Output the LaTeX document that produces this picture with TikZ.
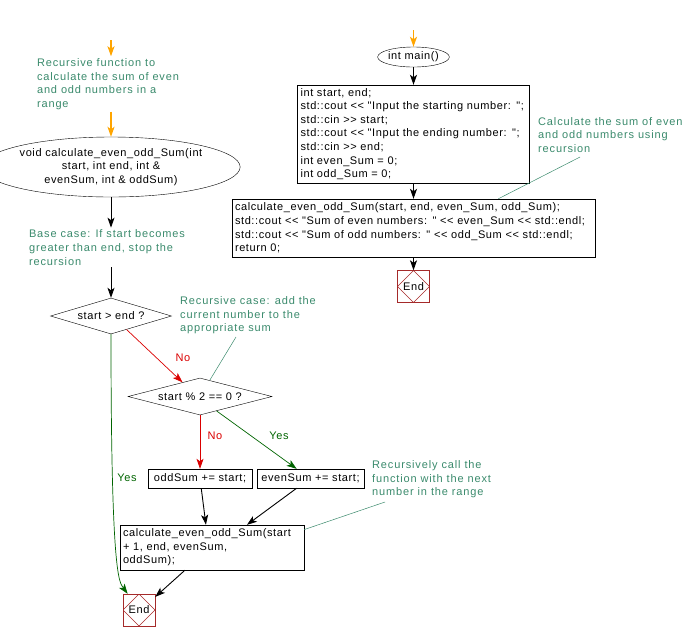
\documentclass[tikz,border=0pt]{standalone}
\usepackage{fontspec}
\setmainfont{Liberation Sans}[Ligatures=TeXOff, LetterSpace=5.5]
\newfontfamily\notefont{Liberation Sans}[Ligatures=TeXOff, LetterSpace=7.8]
\usetikzlibrary{shapes.geometric,arrows.meta,positioning}

\definecolor{notegreen}{RGB}{58,138,108}
\definecolor{yesgreen}{RGB}{0,100,0}
\definecolor{nored}{RGB}{218,0,0}
\definecolor{leadorange}{RGB}{255,165,0}
\definecolor{endred}{RGB}{165,42,42}

\begin{document}
\begin{tikzpicture}[x=1pt, y=-1pt, font=\fontsize{11}{13.6}\selectfont,
		>={Stealth[length=10pt,width=7pt,inset=2.5pt]}]
				\tikzstyle{Box}		= [draw, rectangle, inner xsep=3pt, inner ysep=1pt]
				\tikzstyle{Code}	= [align=left]
				\tikzstyle{Start}	= [draw, ellipse, inner sep=0pt, align=center]
				\tikzstyle{Decision}	= [draw, diamond, aspect=3.5, inner sep=1pt]
				\tikzstyle{Stop}	= [draw=endred, rectangle, minimum size=32pt, inner sep=0pt,
					path picture={\draw[endred] (path picture bounding box.north) -- (path picture bounding box.east)
						-- (path picture bounding box.south) -- (path picture bounding box.west) -- cycle;}]
				\tikzstyle{Note}	= [text=notegreen, align=left, inner sep=2pt, font=\notefont\fontsize{11}{13.6}\selectfont]
				\tikzstyle{Flow}	= [black, line width=0.9pt]
				\tikzstyle{Lead}	= [leadorange, line width=1.4pt]
				\tikzstyle{YesLine}	= [yesgreen, line width=0.7pt]
				\tikzstyle{NoLine}	= [nored, line width=0.7pt]
				\tikzstyle{Pointer}	= [notegreen, line width=0.5pt]

				\useasboundingbox (0,0) rectangle (692,641);

				\coordinate (s1) at (111,40);
				\node (c1) at (108,84) [Note] {Recursive function to\\calculate the sum of even\\and odd numbers in a\\range};
				\node (f1) at (111,167) [Start, minimum width=211pt, minimum height=60pt] {void calculate\_even\_odd\_Sum(int\\start, int end, int \&\\evenSum, int \& oddSum)};
				\node (c2) at (107,247.5) [Note] {Base case: If start becomes\\greater than end, stop the\\recursion};
				\node (d1) at (111,316) [Decision, minimum width=121pt, minimum height=36pt] {start > end ?};
				\node (c3) at (178,315.5) [Note, anchor=west] {Recursive case: add the\\current number to the\\appropriate sum};
				\node (d2) at (200,396.5) [Decision, minimum width=144pt, minimum height=37pt] {start \% 2 == 0 ?};
				\node (b2) at (200,478.5) [Box, minimum width=104pt, minimum height=19pt] {oddSum += start;};
				\node (b3) at (310.5,478.5) [Box, minimum width=107pt, minimum height=19pt] {evenSum += start;};
				\node (c5) at (370,479.5) [Note, anchor=west] {Recursively call the\\function with the next\\number in the range};
				\node (b4) at (212,547.5) [Box, Code, text width=178pt, minimum height=45pt] {calculate\_even\_odd\_Sum(start\\+ 1, end, evenSum,\\oddSum);};
				\node (e1) at (139,610) [Stop] {End};

				\node (n1) at (183,358) [text=nored] {No};
				\node (n2) at (215,436) [text=nored] {No};
				\node (y1) at (279,436) [text=yesgreen] {Yes};
				\node (y2) at (127,478) [text=yesgreen] {Yes};

				\coordinate (s2) at (413.5,30);
				\node (m1) at (413.5,57) [Start, minimum width=67pt, minimum height=20pt] {int main()};
				\node (m2) at (413.5,134) [Box, Code, text width=226pt, minimum height=98pt] {int start, end;\\std::cout << "Input the starting number: ";\\std::cin >> start;\\std::cout << "Input the ending number: ";\\std::cin >> end;\\int even\_Sum = 0;\\int odd\_Sum = 0;};
				\node (m3) at (413.5,228) [Box, Code, text width=357pt, minimum height=58pt] {calculate\_even\_odd\_Sum(start, end, even\_Sum, odd\_Sum);\\std::cout << "Sum of even numbers: " << even\_Sum << std::endl;\\std::cout << "Sum of odd numbers: " << odd\_Sum << std::endl;\\return 0;};
				\node (e2) at (413.5,286.5) [Stop] {End};
				\node (c4) at (536,135) [Note, anchor=west] {Calculate the sum of even\\and odd numbers using\\recursion};

				\draw [->] (s1) to (s1 |- c1.north) [Lead];
				\draw [->] (s1 |- c1.south) to (f1) [Lead];
				\draw [->] (f1) to (f1 |- c2.north) [Flow];
				\draw [->] (f1 |- c2.south) to (d1) [Flow];
				\draw [->] (d1.-41) to (d2.141) [NoLine];
				\draw [->] (d2) to (b2) [NoLine];
				\draw [->] (d2.-41) to (b3.145) [YesLine];
				\draw [->] (d1) .. controls (111,575) and (119,582) .. (e1.125) [YesLine];
				\draw [->] (b2) to (b4.105) [Flow];
				\draw [->] (b3.215) to (b4.33) [Flow];
				\draw [->] (b4.220) to (e1.39) [Flow];

				\draw [->] (s2) to (m1) [Lead];
				\draw [->] (m1) to (m2) [Flow];
				\draw [->] (m2) to (m3) [Flow];
				\draw [->] (m3) to (e2) [Flow];

				\coordinate (p1) at (236,337);
				\coordinate (p2) at (580,157);
				\coordinate (p3) at (385,502);
				\draw (p1) to (d2.59) [Pointer];
				\draw (p2) to (m3.19) [Pointer];
				\draw (p3) to (b4.11) [Pointer];
			\end{tikzpicture}
\end{document}
